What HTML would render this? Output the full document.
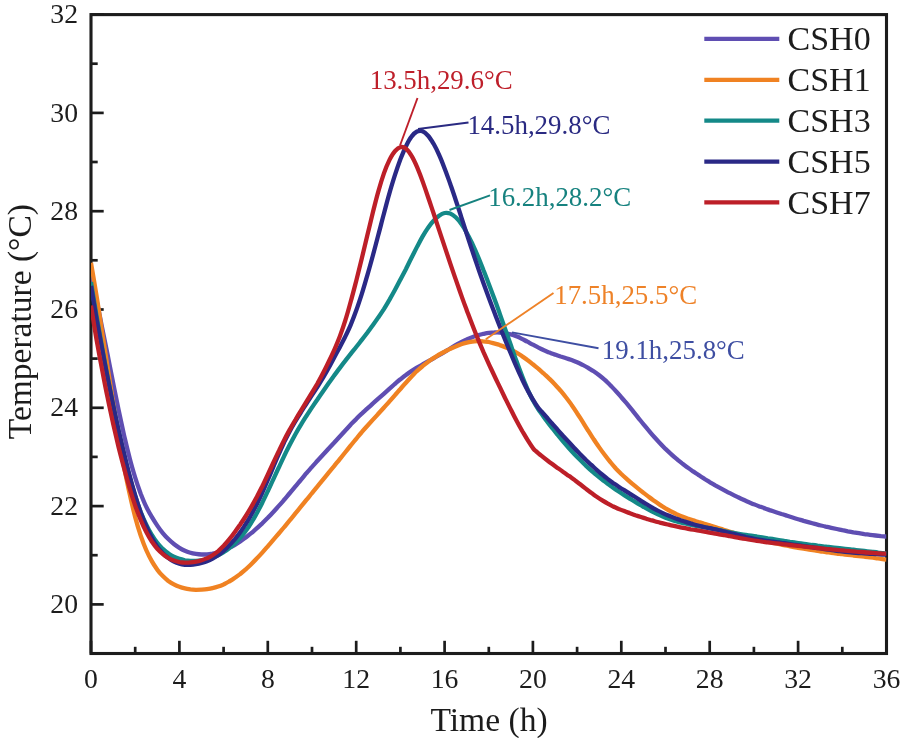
<!DOCTYPE html>
<html lang="en"><head><meta charset="utf-8"><title>Temperature vs Time</title>
<style>html,body{margin:0;padding:0;background:#fff}svg{display:block}text{font-family:"Liberation Serif",serif}</style></head><body>
<svg width="900" height="738" viewBox="0 0 900 738">
<rect width="900" height="738" fill="#fff"/>
<g stroke="#1c1c1c" fill="none" stroke-linecap="butt">
<rect x="91.0" y="14.6" width="795.5" height="638.9" stroke-width="3.1"/>
<line x1="91.0" y1="653.5" x2="91.0" y2="640.8" stroke-width="2.7"/>
<line x1="135.2" y1="653.5" x2="135.2" y2="646.8" stroke-width="2.7"/>
<line x1="179.4" y1="653.5" x2="179.4" y2="640.8" stroke-width="2.7"/>
<line x1="223.6" y1="653.5" x2="223.6" y2="646.8" stroke-width="2.7"/>
<line x1="267.8" y1="653.5" x2="267.8" y2="640.8" stroke-width="2.7"/>
<line x1="312.0" y1="653.5" x2="312.0" y2="646.8" stroke-width="2.7"/>
<line x1="356.2" y1="653.5" x2="356.2" y2="640.8" stroke-width="2.7"/>
<line x1="400.4" y1="653.5" x2="400.4" y2="646.8" stroke-width="2.7"/>
<line x1="444.6" y1="653.5" x2="444.6" y2="640.8" stroke-width="2.7"/>
<line x1="488.8" y1="653.5" x2="488.8" y2="646.8" stroke-width="2.7"/>
<line x1="532.9" y1="653.5" x2="532.9" y2="640.8" stroke-width="2.7"/>
<line x1="577.1" y1="653.5" x2="577.1" y2="646.8" stroke-width="2.7"/>
<line x1="621.3" y1="653.5" x2="621.3" y2="640.8" stroke-width="2.7"/>
<line x1="665.5" y1="653.5" x2="665.5" y2="646.8" stroke-width="2.7"/>
<line x1="709.7" y1="653.5" x2="709.7" y2="640.8" stroke-width="2.7"/>
<line x1="753.9" y1="653.5" x2="753.9" y2="646.8" stroke-width="2.7"/>
<line x1="798.1" y1="653.5" x2="798.1" y2="640.8" stroke-width="2.7"/>
<line x1="842.3" y1="653.5" x2="842.3" y2="646.8" stroke-width="2.7"/>
<line x1="886.5" y1="653.5" x2="886.5" y2="640.8" stroke-width="2.7"/>
<line x1="91.0" y1="653.5" x2="97.7" y2="653.5" stroke-width="2.7"/>
<line x1="91.0" y1="604.4" x2="103.7" y2="604.4" stroke-width="2.7"/>
<line x1="91.0" y1="555.2" x2="97.7" y2="555.2" stroke-width="2.7"/>
<line x1="91.0" y1="506.1" x2="103.7" y2="506.1" stroke-width="2.7"/>
<line x1="91.0" y1="456.9" x2="97.7" y2="456.9" stroke-width="2.7"/>
<line x1="91.0" y1="407.8" x2="103.7" y2="407.8" stroke-width="2.7"/>
<line x1="91.0" y1="358.6" x2="97.7" y2="358.6" stroke-width="2.7"/>
<line x1="91.0" y1="309.5" x2="103.7" y2="309.5" stroke-width="2.7"/>
<line x1="91.0" y1="260.3" x2="97.7" y2="260.3" stroke-width="2.7"/>
<line x1="91.0" y1="211.2" x2="103.7" y2="211.2" stroke-width="2.7"/>
<line x1="91.0" y1="162.0" x2="97.7" y2="162.0" stroke-width="2.7"/>
<line x1="91.0" y1="112.9" x2="103.7" y2="112.9" stroke-width="2.7"/>
<line x1="91.0" y1="63.7" x2="97.7" y2="63.7" stroke-width="2.7"/>
<line x1="91.0" y1="14.6" x2="103.7" y2="14.6" stroke-width="2.7"/>
</g>
<g font-size="27.7" fill="#1c1c1c">
<text x="91.0" y="688.2" text-anchor="middle">0</text>
<text x="179.4" y="688.2" text-anchor="middle">4</text>
<text x="267.8" y="688.2" text-anchor="middle">8</text>
<text x="356.2" y="688.2" text-anchor="middle">12</text>
<text x="444.6" y="688.2" text-anchor="middle">16</text>
<text x="532.9" y="688.2" text-anchor="middle">20</text>
<text x="621.3" y="688.2" text-anchor="middle">24</text>
<text x="709.7" y="688.2" text-anchor="middle">28</text>
<text x="798.1" y="688.2" text-anchor="middle">32</text>
<text x="886.5" y="688.2" text-anchor="middle">36</text>
<text x="78" y="613.0" text-anchor="end">20</text>
<text x="78" y="514.7" text-anchor="end">22</text>
<text x="78" y="416.4" text-anchor="end">24</text>
<text x="78" y="318.1" text-anchor="end">26</text>
<text x="78" y="219.8" text-anchor="end">28</text>
<text x="78" y="121.5" text-anchor="end">30</text>
<text x="78" y="23.2" text-anchor="end">32</text>
</g>
<text x="489" y="730.6" font-size="33.6" text-anchor="middle" fill="#1c1c1c">Time (h)</text>
<text transform="translate(30.6 321.6) rotate(-90)" font-size="33.5" text-anchor="middle" fill="#1c1c1c">Temperature (°C)</text>
<clipPath id="c"><rect x="91.0" y="14.6" width="795.5" height="638.9"/></clipPath>
<g clip-path="url(#c)" fill="none" stroke-width="4.3" stroke-linejoin="round" stroke-linecap="butt">
<path stroke="#5f4eb2" d="M91.0 275.1C91.9 279.3 94.7 291.6 96.5 300.3C98.4 308.9 100.2 318.0 102.0 327.1C103.9 336.2 105.7 345.5 107.6 354.8C109.4 364.1 111.3 373.5 113.1 382.7C114.9 391.9 116.8 401.2 118.6 410.0C120.5 418.7 122.3 427.3 124.1 435.4C126.0 443.4 127.8 451.2 129.7 458.2C131.5 465.3 133.4 471.7 135.2 477.6C137.0 483.5 138.9 488.8 140.7 493.7C142.6 498.5 144.4 502.9 146.2 506.7C148.1 510.6 149.9 513.7 151.8 516.9C153.6 520.0 155.5 522.9 157.3 525.6C159.1 528.3 161.0 530.9 162.8 533.1C164.7 535.4 166.5 537.3 168.3 539.1C170.2 541.0 172.0 542.5 173.9 544.0C175.7 545.4 177.5 546.7 179.4 547.8C181.2 548.9 183.1 549.9 184.9 550.7C186.8 551.5 188.6 552.2 190.4 552.7C192.3 553.3 194.1 553.6 196.0 553.9C197.8 554.2 199.6 554.4 201.5 554.5C203.3 554.5 205.2 554.5 207.0 554.3C208.9 554.2 210.7 553.9 212.5 553.6C214.4 553.2 216.2 552.8 218.1 552.2C219.9 551.7 221.7 551.0 223.6 550.3C225.4 549.6 227.3 548.8 229.1 547.9C230.9 547.0 232.8 546.0 234.6 545.0C236.5 543.9 238.3 542.8 240.2 541.5C242.0 540.3 243.8 538.9 245.7 537.5C247.5 536.1 249.4 534.7 251.2 533.2C253.0 531.6 254.9 530.0 256.7 528.4C258.6 526.7 260.4 525.0 262.3 523.3C264.1 521.5 265.9 519.7 267.8 517.8C269.6 515.9 271.5 513.9 273.3 512.0C275.1 510.0 277.0 507.9 278.8 505.9C280.7 503.8 282.5 501.7 284.4 499.5C286.2 497.4 288.0 495.2 289.9 493.0C291.7 490.9 293.6 488.6 295.4 486.4C297.2 484.2 299.1 482.0 300.9 479.8C302.8 477.6 304.6 475.3 306.4 473.2C308.3 471.1 310.1 469.0 312.0 466.9C313.8 464.8 315.7 462.8 317.5 460.8C319.3 458.8 321.2 456.8 323.0 454.8C324.9 452.8 326.7 450.8 328.5 448.8C330.4 446.8 332.2 444.8 334.1 442.8C335.9 440.8 337.8 438.8 339.6 436.8C341.4 434.8 343.3 432.7 345.1 430.7C347.0 428.7 348.8 426.7 350.6 424.7C352.5 422.8 354.3 420.9 356.2 419.1C358.0 417.2 359.8 415.4 361.7 413.7C363.5 411.9 365.4 410.3 367.2 408.6C369.1 406.9 370.9 405.3 372.7 403.6C374.6 402.0 376.4 400.4 378.3 398.7C380.1 397.1 381.9 395.5 383.8 393.8C385.6 392.2 387.5 390.5 389.3 388.9C391.2 387.2 393.0 385.6 394.8 384.0C396.7 382.4 398.5 380.8 400.4 379.3C402.2 377.8 404.0 376.3 405.9 375.0C407.7 373.6 409.6 372.3 411.4 371.1C413.3 369.9 415.1 368.8 416.9 367.7C418.8 366.6 420.6 365.6 422.5 364.5C424.3 363.5 426.1 362.5 428.0 361.4C429.8 360.4 431.7 359.4 433.5 358.3C435.3 357.3 437.2 356.2 439.0 355.2C440.9 354.1 442.7 353.0 444.6 351.9C446.4 350.8 448.2 349.6 450.1 348.5C451.9 347.4 453.8 346.3 455.6 345.2C457.4 344.2 459.3 343.1 461.1 342.2C463.0 341.2 464.8 340.3 466.7 339.5C468.5 338.6 470.3 337.9 472.2 337.2C474.0 336.5 475.9 335.8 477.7 335.3C479.5 334.7 481.4 334.3 483.2 333.9C485.1 333.5 486.9 333.1 488.8 332.9C490.6 332.7 492.4 332.5 494.3 332.5C496.1 332.4 498.0 332.4 499.8 332.5C501.6 332.6 503.5 332.9 505.3 333.2C507.2 333.5 509.0 333.9 510.8 334.4C512.7 334.9 514.5 335.6 516.4 336.3C518.2 337.0 520.1 337.9 521.9 338.8C523.7 339.7 525.6 340.8 527.4 341.7C529.3 342.7 531.1 343.8 532.9 344.7C534.8 345.7 536.6 346.7 538.5 347.6C540.3 348.5 542.2 349.4 544.0 350.3C545.8 351.1 547.7 351.8 549.5 352.6C551.4 353.3 553.2 354.0 555.0 354.6C556.9 355.3 558.7 355.9 560.6 356.5C562.4 357.0 564.2 357.6 566.1 358.2C567.9 358.8 569.8 359.4 571.6 360.0C573.5 360.7 575.3 361.5 577.1 362.3C579.0 363.1 580.8 364.0 582.7 364.9C584.5 365.8 586.3 366.8 588.2 367.9C590.0 369.0 591.9 370.1 593.7 371.3C595.6 372.6 597.4 373.9 599.2 375.3C601.1 376.8 602.9 378.3 604.8 379.9C606.6 381.6 608.4 383.4 610.3 385.2C612.1 387.1 614.0 389.0 615.8 391.0C617.7 393.0 619.5 395.1 621.3 397.2C623.2 399.3 625.0 401.5 626.9 403.7C628.7 405.9 630.5 408.1 632.4 410.4C634.2 412.7 636.1 415.0 637.9 417.3C639.7 419.6 641.6 421.9 643.4 424.2C645.3 426.5 647.1 428.7 649.0 430.9C650.8 433.1 652.6 435.2 654.5 437.3C656.3 439.3 658.2 441.3 660.0 443.2C661.8 445.2 663.7 447.1 665.5 448.9C667.4 450.7 669.2 452.4 671.1 454.1C672.9 455.8 674.7 457.4 676.6 458.9C678.4 460.5 680.3 461.9 682.1 463.4C683.9 464.8 685.8 466.1 687.6 467.5C689.5 468.8 691.3 470.1 693.1 471.4C695.0 472.6 696.8 473.9 698.7 475.1C700.5 476.4 702.4 477.6 704.2 478.7C706.0 479.9 707.9 481.0 709.7 482.1C711.6 483.2 713.4 484.2 715.2 485.3C717.1 486.3 718.9 487.3 720.8 488.3C722.6 489.3 724.5 490.3 726.3 491.3C728.1 492.3 730.0 493.2 731.8 494.1C733.7 495.1 735.5 496.0 737.3 496.9C739.2 497.8 741.0 498.7 742.9 499.5C744.7 500.4 746.6 501.2 748.4 502.0C750.2 502.8 752.1 503.5 753.9 504.3C755.8 505.0 757.6 505.7 759.4 506.4C761.3 507.1 763.1 507.8 765.0 508.4C766.8 509.1 768.6 509.7 770.5 510.4C772.3 511.0 774.2 511.6 776.0 512.2C777.9 512.8 779.7 513.4 781.5 514.0C783.4 514.5 785.2 515.1 787.1 515.7C788.9 516.3 790.7 516.9 792.6 517.5C794.4 518.1 796.3 518.7 798.1 519.2C800.0 519.8 801.8 520.3 803.6 520.9C805.5 521.4 807.3 521.9 809.2 522.4C811.0 522.9 812.8 523.4 814.7 523.9C816.5 524.4 818.4 524.8 820.2 525.3C822.0 525.7 823.9 526.1 825.7 526.6C827.6 527.0 829.4 527.4 831.3 527.8C833.1 528.2 834.9 528.6 836.8 529.0C838.6 529.4 840.5 529.8 842.3 530.2C844.1 530.5 846.0 530.9 847.8 531.3C849.7 531.6 851.5 531.9 853.4 532.3C855.2 532.6 857.0 532.9 858.9 533.2C860.7 533.5 862.6 533.8 864.4 534.1C866.2 534.3 868.1 534.6 869.9 534.8C871.8 535.1 873.6 535.3 875.5 535.5C877.3 535.7 879.1 535.9 881.0 536.1C882.8 536.2 885.6 536.5 886.5 536.5"/>
<path stroke="#f08222" d="M91.0 262.8C91.9 268.3 94.7 284.2 96.5 295.7C98.4 307.1 100.2 319.5 102.0 331.5C103.9 343.4 105.7 355.5 107.6 367.4C109.4 379.2 111.3 391.1 113.1 402.5C114.9 414.0 116.8 425.4 118.6 436.1C120.5 446.9 122.3 457.5 124.1 467.1C126.0 476.8 127.8 485.8 129.7 494.1C131.5 502.4 133.4 510.2 135.2 517.1C137.0 524.0 138.9 530.1 140.7 535.6C142.6 541.1 144.4 545.8 146.2 550.0C148.1 554.3 149.9 557.8 151.8 561.1C153.6 564.4 155.5 567.1 157.3 569.7C159.1 572.2 161.0 574.3 162.8 576.1C164.7 578.0 166.5 579.6 168.3 581.0C170.2 582.3 172.0 583.4 173.9 584.4C175.7 585.4 177.5 586.2 179.4 586.8C181.2 587.5 183.1 588.0 184.9 588.4C186.8 588.8 188.6 589.1 190.4 589.4C192.3 589.6 194.1 589.7 196.0 589.8C197.8 589.8 199.6 589.8 201.5 589.7C203.3 589.6 205.2 589.5 207.0 589.2C208.9 588.9 210.7 588.6 212.5 588.1C214.4 587.7 216.2 587.2 218.1 586.5C219.9 585.9 221.7 585.2 223.6 584.4C225.4 583.5 227.3 582.6 229.1 581.5C230.9 580.5 232.8 579.3 234.6 578.0C236.5 576.8 238.3 575.4 240.2 574.0C242.0 572.5 243.8 571.0 245.7 569.4C247.5 567.7 249.4 566.0 251.2 564.2C253.0 562.4 254.9 560.5 256.7 558.6C258.6 556.7 260.4 554.7 262.3 552.6C264.1 550.6 265.9 548.5 267.8 546.3C269.6 544.2 271.5 542.1 273.3 539.9C275.1 537.8 277.0 535.6 278.8 533.5C280.7 531.3 282.5 529.1 284.4 526.9C286.2 524.7 288.0 522.4 289.9 520.2C291.7 517.9 293.6 515.7 295.4 513.4C297.2 511.2 299.1 508.9 300.9 506.7C302.8 504.4 304.6 502.2 306.4 499.9C308.3 497.7 310.1 495.4 312.0 493.2C313.8 490.9 315.7 488.6 317.5 486.4C319.3 484.1 321.2 481.8 323.0 479.6C324.9 477.3 326.7 475.0 328.5 472.8C330.4 470.5 332.2 468.3 334.1 466.1C335.9 463.8 337.8 461.6 339.6 459.3C341.4 457.1 343.3 454.8 345.1 452.5C347.0 450.2 348.8 447.9 350.6 445.6C352.5 443.4 354.3 441.1 356.2 438.8C358.0 436.6 359.8 434.3 361.7 432.2C363.5 430.1 365.4 428.0 367.2 426.0C369.1 423.9 370.9 421.9 372.7 419.9C374.6 417.9 376.4 415.9 378.3 413.8C380.1 411.8 381.9 409.8 383.8 407.7C385.6 405.7 387.5 403.7 389.3 401.6C391.2 399.5 393.0 397.5 394.8 395.4C396.7 393.3 398.5 391.1 400.4 389.0C402.2 386.9 404.0 384.8 405.9 382.8C407.7 380.7 409.6 378.7 411.4 376.7C413.3 374.8 415.1 372.9 416.9 371.1C418.8 369.4 420.6 367.7 422.5 366.2C424.3 364.6 426.1 363.2 428.0 361.9C429.8 360.5 431.7 359.3 433.5 358.1C435.3 356.9 437.2 355.8 439.0 354.7C440.9 353.6 442.7 352.6 444.6 351.7C446.4 350.7 448.2 349.8 450.1 348.9C451.9 348.1 453.8 347.2 455.6 346.5C457.4 345.7 459.3 345.0 461.1 344.3C463.0 343.7 464.8 343.2 466.7 342.7C468.5 342.2 470.3 341.9 472.2 341.6C474.0 341.3 475.9 341.2 477.7 341.1C479.5 341.0 481.4 341.1 483.2 341.3C485.1 341.4 486.9 341.7 488.8 342.0C490.6 342.4 492.4 342.9 494.3 343.4C496.1 343.9 498.0 344.4 499.8 345.1C501.6 345.7 503.5 346.4 505.3 347.2C507.2 347.9 509.0 348.7 510.8 349.6C512.7 350.5 514.5 351.5 516.4 352.6C518.2 353.6 520.1 354.8 521.9 356.1C523.7 357.3 525.6 358.6 527.4 360.0C529.3 361.4 531.1 362.8 532.9 364.3C534.8 365.8 536.6 367.4 538.5 368.9C540.3 370.5 542.2 372.1 544.0 373.7C545.8 375.4 547.7 377.1 549.5 378.9C551.4 380.7 553.2 382.6 555.0 384.5C556.9 386.5 558.7 388.6 560.6 390.7C562.4 392.9 564.2 395.1 566.1 397.5C567.9 399.8 569.8 402.3 571.6 404.9C573.5 407.5 575.3 410.3 577.1 413.2C579.0 416.0 580.8 419.0 582.7 421.9C584.5 424.8 586.3 427.8 588.2 430.7C590.0 433.6 591.9 436.5 593.7 439.3C595.6 442.1 597.4 444.8 599.2 447.4C601.1 450.1 602.9 452.6 604.8 455.0C606.6 457.4 608.4 459.8 610.3 462.0C612.1 464.3 614.0 466.4 615.8 468.4C617.7 470.4 619.5 472.2 621.3 474.0C623.2 475.8 625.0 477.4 626.9 479.1C628.7 480.7 630.5 482.3 632.4 483.9C634.2 485.4 636.1 487.0 637.9 488.4C639.7 489.9 641.6 491.4 643.4 492.8C645.3 494.2 647.1 495.6 649.0 497.0C650.8 498.4 652.6 499.7 654.5 501.1C656.3 502.4 658.2 503.7 660.0 504.9C661.8 506.1 663.7 507.3 665.5 508.4C667.4 509.5 669.2 510.5 671.1 511.5C672.9 512.4 674.7 513.3 676.6 514.2C678.4 515.0 680.3 515.8 682.1 516.5C683.9 517.3 685.8 517.9 687.6 518.6C689.5 519.2 691.3 519.8 693.1 520.4C695.0 521.0 696.8 521.5 698.7 522.1C700.5 522.6 702.4 523.2 704.2 523.7C706.0 524.3 707.9 524.8 709.7 525.4C711.6 526.0 713.4 526.6 715.2 527.1C717.1 527.7 718.9 528.3 720.8 528.9C722.6 529.5 724.5 530.0 726.3 530.6C728.1 531.2 730.0 531.8 731.8 532.4C733.7 533.0 735.5 533.5 737.3 534.1C739.2 534.6 741.0 535.2 742.9 535.7C744.7 536.2 746.6 536.7 748.4 537.2C750.2 537.6 752.1 538.1 753.9 538.5C755.8 539.0 757.6 539.4 759.4 539.8C761.3 540.2 763.1 540.6 765.0 541.0C766.8 541.5 768.6 541.9 770.5 542.3C772.3 542.7 774.2 543.1 776.0 543.5C777.9 543.8 779.7 544.2 781.5 544.6C783.4 545.0 785.2 545.4 787.1 545.7C788.9 546.1 790.7 546.4 792.6 546.8C794.4 547.1 796.3 547.5 798.1 547.8C800.0 548.1 801.8 548.4 803.6 548.7C805.5 549.1 807.3 549.4 809.2 549.6C811.0 549.9 812.8 550.2 814.7 550.5C816.5 550.8 818.4 551.0 820.2 551.3C822.0 551.6 823.9 551.8 825.7 552.1C827.6 552.3 829.4 552.6 831.3 552.8C833.1 553.1 834.9 553.3 836.8 553.5C838.6 553.7 840.5 554.0 842.3 554.2C844.1 554.4 846.0 554.6 847.8 554.8C849.7 555.0 851.5 555.2 853.4 555.5C855.2 555.7 857.0 555.9 858.9 556.1C860.7 556.3 862.6 556.5 864.4 556.7C866.2 556.9 868.1 557.1 869.9 557.4C871.8 557.6 873.6 557.8 875.5 558.1C877.3 558.3 879.1 558.6 881.0 558.8C882.8 559.1 885.6 559.5 886.5 559.6"/>
<path stroke="#148988" d="M91.0 282.0C91.9 287.6 94.7 305.1 96.5 315.9C98.4 326.8 100.2 336.9 102.1 347.1C103.9 357.3 105.7 367.3 107.6 377.0C109.4 386.6 111.3 396.1 113.1 405.2C114.9 414.3 116.8 423.2 118.6 431.5C120.5 439.9 122.3 447.8 124.2 455.4C126.0 463.0 127.8 470.2 129.7 477.0C131.5 483.8 133.4 490.2 135.2 496.1C137.0 501.9 138.9 507.2 140.7 512.0C142.6 516.7 144.4 520.8 146.3 524.6C148.1 528.5 149.9 531.8 151.8 534.8C153.6 537.8 155.5 540.5 157.3 542.8C159.1 545.2 161.0 547.1 162.8 548.9C164.7 550.7 166.5 552.2 168.4 553.4C170.2 554.7 172.0 555.8 173.9 556.7C175.7 557.6 177.6 558.3 179.4 558.9C181.3 559.5 183.1 559.9 184.9 560.3C186.8 560.6 188.6 560.8 190.5 560.9C192.3 561.0 194.1 561.0 196.0 560.9C197.8 560.8 199.7 560.6 201.5 560.3C203.4 560.1 205.2 559.7 207.0 559.2C208.9 558.7 210.7 558.2 212.6 557.5C214.4 556.8 216.2 556.1 218.1 555.3C219.9 554.4 221.8 553.4 223.6 552.2C225.5 551.1 227.3 549.8 229.1 548.3C231.0 546.9 232.8 545.3 234.7 543.6C236.5 541.9 238.4 540.0 240.2 537.9C242.0 535.8 243.9 533.5 245.7 531.0C247.6 528.5 249.4 525.8 251.2 522.8C253.1 519.9 254.9 516.6 256.8 513.3C258.6 509.9 260.5 506.3 262.3 502.7C264.1 499.0 266.0 495.1 267.8 491.2C269.7 487.4 271.5 483.3 273.3 479.3C275.2 475.3 277.0 471.2 278.9 467.3C280.7 463.3 282.6 459.3 284.4 455.5C286.2 451.7 288.1 448.0 289.9 444.5C291.8 440.9 293.6 437.5 295.4 434.2C297.3 430.9 299.1 427.8 301.0 424.7C302.8 421.6 304.7 418.7 306.5 415.8C308.3 413.0 310.2 410.2 312.0 407.4C313.9 404.6 315.7 401.9 317.6 399.2C319.4 396.5 321.2 393.9 323.1 391.2C324.9 388.6 326.8 385.9 328.6 383.3C330.4 380.7 332.3 378.2 334.1 375.6C336.0 373.1 337.8 370.6 339.7 368.1C341.5 365.7 343.3 363.3 345.2 360.9C347.0 358.5 348.9 356.2 350.7 353.9C352.5 351.6 354.4 349.3 356.2 347.0C358.1 344.7 359.9 342.3 361.8 339.9C363.6 337.6 365.4 335.2 367.3 332.7C369.1 330.2 371.0 327.7 372.8 325.2C374.7 322.6 376.5 320.1 378.3 317.4C380.2 314.7 382.0 312.0 383.9 309.1C385.7 306.2 387.5 303.1 389.4 299.9C391.2 296.7 393.1 293.3 394.9 290.0C396.8 286.6 398.6 283.1 400.4 279.6C402.3 276.2 404.1 272.6 406.0 269.0C407.8 265.3 409.6 261.5 411.5 257.8C413.3 254.2 415.2 250.4 417.0 246.9C418.9 243.3 420.7 239.8 422.5 236.6C424.4 233.4 426.2 230.4 428.1 227.7C429.9 225.1 431.7 222.8 433.6 220.8C435.4 218.8 437.3 217.0 439.1 215.7C441.0 214.4 442.8 213.4 444.6 213.0C446.5 212.7 448.3 212.8 450.2 213.5C452.0 214.2 453.9 215.6 455.7 217.3C457.5 219.0 459.4 221.2 461.2 223.8C463.1 226.4 464.9 229.4 466.7 232.7C468.6 236.0 470.4 239.7 472.3 243.6C474.1 247.5 476.0 251.7 477.8 256.0C479.6 260.4 481.5 265.0 483.3 269.7C485.2 274.3 487.0 279.1 488.8 283.9C490.7 288.8 492.5 293.7 494.4 298.8C496.2 303.8 498.1 308.9 499.9 314.1C501.7 319.3 503.6 324.6 505.4 329.8C507.3 335.1 509.1 340.4 511.0 345.6C512.8 350.8 514.6 356.1 516.5 361.1C518.3 366.1 520.2 371.1 522.0 375.8C523.8 380.5 525.7 385.0 527.5 389.1C529.4 393.3 531.2 397.2 533.1 400.6C534.9 404.1 537.2 407.6 538.6 409.7C540.0 411.9 540.9 412.9 541.3 413.5C542.3 414.8 545.0 418.7 546.9 421.2C548.7 423.7 550.5 426.0 552.4 428.3C554.2 430.7 556.1 433.0 557.9 435.2C559.7 437.5 561.6 439.7 563.4 441.8C565.3 444.0 567.1 446.1 569.0 448.2C570.8 450.2 572.6 452.2 574.5 454.2C576.3 456.1 578.2 458.0 580.0 459.8C581.8 461.7 583.7 463.5 585.5 465.3C587.4 467.0 589.2 468.8 591.0 470.4C592.9 472.0 594.7 473.6 596.6 475.1C598.4 476.6 600.2 478.1 602.1 479.5C603.9 480.9 605.8 482.3 607.6 483.7C609.5 485.0 611.3 486.4 613.1 487.7C615.0 489.0 616.8 490.2 618.7 491.5C620.5 492.7 622.3 493.9 624.2 495.1C626.0 496.3 627.9 497.4 629.7 498.6C631.5 499.7 633.4 500.8 635.2 501.9C637.1 503.0 638.9 504.1 640.7 505.2C642.6 506.3 644.4 507.4 646.3 508.4C648.1 509.4 650.0 510.4 651.8 511.4C653.6 512.4 655.5 513.3 657.3 514.1C659.2 515.0 661.0 515.8 662.8 516.6C664.7 517.4 666.5 518.1 668.4 518.8C670.2 519.5 672.0 520.1 673.9 520.6C675.7 521.2 677.6 521.7 679.4 522.2C681.2 522.7 683.1 523.1 684.9 523.5C686.8 524.0 688.6 524.3 690.4 524.7C692.3 525.1 694.1 525.5 696.0 525.8C697.8 526.2 699.7 526.5 701.5 526.8C703.3 527.2 705.2 527.5 707.0 527.8C708.9 528.2 710.7 528.5 712.5 528.8C714.4 529.2 716.2 529.5 718.1 529.9C719.9 530.2 721.7 530.6 723.6 531.0C725.4 531.3 727.3 531.7 729.1 532.0C730.9 532.4 732.8 532.7 734.6 533.0C736.5 533.3 738.3 533.7 740.2 534.0C742.0 534.3 743.8 534.6 745.7 534.8C747.5 535.1 749.4 535.4 751.2 535.7C753.0 536.0 754.9 536.3 756.7 536.5C758.6 536.8 760.4 537.1 762.2 537.4C764.1 537.7 765.9 538.0 767.8 538.3C769.6 538.5 771.4 538.8 773.3 539.1C775.1 539.4 777.0 539.7 778.8 540.0C780.7 540.3 782.5 540.6 784.3 540.9C786.2 541.2 788.0 541.5 789.9 541.8C791.7 542.0 793.5 542.3 795.4 542.6C797.2 542.9 799.1 543.2 800.9 543.4C802.7 543.7 804.6 544.0 806.4 544.2C808.3 544.5 810.1 544.7 811.9 545.0C813.8 545.2 815.6 545.4 817.5 545.7C819.3 545.9 821.1 546.1 823.0 546.3C824.8 546.5 826.7 546.8 828.5 547.0C830.4 547.2 832.2 547.4 834.0 547.6C835.9 547.8 837.7 548.0 839.6 548.2C841.4 548.4 843.2 548.6 845.1 548.8C846.9 549.0 848.8 549.2 850.6 549.4C852.4 549.6 854.3 549.9 856.1 550.1C858.0 550.3 859.8 550.5 861.6 550.7C863.5 550.9 865.3 551.1 867.2 551.3C869.0 551.5 870.9 551.7 872.7 551.9C874.5 552.1 876.4 552.3 878.2 552.6C880.1 552.8 882.4 553.0 883.7 553.2C885.1 553.3 886.0 553.4 886.5 553.5"/>
<path stroke="#2a2986" d="M91.0 285.9C91.9 291.4 94.7 308.2 96.5 318.8C98.4 329.3 100.2 339.1 102.1 348.9C103.9 358.7 105.7 368.4 107.6 377.7C109.4 387.0 111.3 396.1 113.1 404.9C114.9 413.7 116.8 422.2 118.6 430.4C120.5 438.6 122.3 446.4 124.2 454.0C126.0 461.6 127.8 468.9 129.7 475.8C131.5 482.7 133.4 489.3 135.2 495.4C137.0 501.5 138.9 507.3 140.7 512.4C142.6 517.5 144.4 522.1 146.3 526.3C148.1 530.5 149.9 534.3 151.8 537.7C153.6 541.0 155.5 544.0 157.3 546.6C159.1 549.2 161.0 551.3 162.8 553.2C164.7 555.1 166.5 556.7 168.4 558.1C170.2 559.5 172.0 560.7 173.9 561.6C175.7 562.5 177.6 563.2 179.4 563.7C181.3 564.3 183.1 564.6 184.9 564.8C186.8 565.0 188.6 564.9 190.5 564.8C192.3 564.7 194.1 564.5 196.0 564.2C197.8 563.9 199.7 563.5 201.5 563.0C203.4 562.5 205.2 561.9 207.0 561.2C208.9 560.5 210.7 559.7 212.6 558.7C214.4 557.7 216.2 556.6 218.1 555.3C219.9 554.0 221.8 552.5 223.6 550.9C225.5 549.3 227.3 547.4 229.1 545.5C231.0 543.6 232.8 541.5 234.7 539.3C236.5 537.1 238.4 534.7 240.2 532.2C242.0 529.7 243.9 527.0 245.7 524.0C247.6 521.1 249.4 518.0 251.2 514.7C253.1 511.4 254.9 507.9 256.8 504.2C258.6 500.5 260.5 496.5 262.3 492.5C264.1 488.4 266.0 484.2 267.8 479.9C269.7 475.7 271.5 471.3 273.3 466.9C275.2 462.6 277.0 458.1 278.9 453.9C280.7 449.7 282.6 445.6 284.4 441.7C286.2 437.9 288.1 434.3 289.9 430.9C291.8 427.4 293.6 424.3 295.4 421.2C297.3 418.0 299.1 415.1 301.0 412.2C302.8 409.2 304.7 406.4 306.5 403.5C308.3 400.7 310.2 397.9 312.0 395.1C313.9 392.3 315.7 389.5 317.6 386.6C319.4 383.7 321.2 380.8 323.1 377.7C324.9 374.6 326.8 371.5 328.6 368.1C330.4 364.8 332.3 361.2 334.1 357.8C336.0 354.3 337.8 350.9 339.7 347.4C341.5 343.9 343.3 340.5 345.2 336.7C347.0 333.0 348.9 329.1 350.7 324.8C352.5 320.4 354.4 315.6 356.2 310.5C358.1 305.4 359.9 299.8 361.8 293.9C363.6 288.1 365.4 281.8 367.3 275.4C369.1 269.1 371.0 262.4 372.8 255.7C374.7 248.9 376.5 241.9 378.3 235.0C380.2 228.0 382.0 220.7 383.9 213.8C385.7 206.8 387.5 199.8 389.4 193.3C391.2 186.9 393.1 180.8 394.9 175.1C396.8 169.4 398.6 164.2 400.4 159.3C402.3 154.5 404.1 150.0 406.0 146.2C407.8 142.4 409.6 139.0 411.5 136.6C413.3 134.2 415.2 132.4 417.0 131.5C418.9 130.7 420.7 130.6 422.5 131.3C424.4 132.0 426.2 133.7 428.1 135.8C429.9 137.8 431.7 140.7 433.6 143.8C435.4 147.0 437.3 150.7 439.1 154.8C441.0 158.9 442.8 163.6 444.6 168.4C446.5 173.2 448.3 178.4 450.2 183.7C452.0 189.0 453.9 194.5 455.7 200.0C457.5 205.5 459.4 211.1 461.2 216.8C463.1 222.4 464.9 228.2 466.7 233.9C468.6 239.6 470.4 245.3 472.3 250.8C474.1 256.4 476.0 261.8 477.8 267.1C479.6 272.5 481.5 277.7 483.3 282.8C485.2 287.9 487.0 292.9 488.8 297.8C490.7 302.8 492.5 307.6 494.4 312.4C496.2 317.3 498.1 322.0 499.9 326.7C501.7 331.4 503.6 336.0 505.4 340.5C507.3 345.1 509.1 349.6 511.0 354.0C512.8 358.4 514.6 362.7 516.5 366.9C518.3 371.1 520.2 375.1 522.0 379.0C523.8 382.9 525.7 386.6 527.5 390.1C529.4 393.5 531.2 396.8 533.1 399.9C534.9 402.9 537.2 406.4 538.6 408.3C540.0 410.2 540.9 410.8 541.3 411.3C542.3 412.4 545.0 415.5 546.9 417.5C548.7 419.6 550.5 421.8 552.4 423.8C554.2 425.9 556.1 428.0 557.9 430.1C559.7 432.2 561.6 434.2 563.4 436.3C565.3 438.3 567.1 440.3 569.0 442.3C570.8 444.3 572.6 446.3 574.5 448.2C576.3 450.2 578.2 452.1 580.0 454.0C581.8 455.8 583.7 457.7 585.5 459.5C587.4 461.2 589.2 463.0 591.0 464.7C592.9 466.4 594.7 468.1 596.6 469.8C598.4 471.4 600.2 473.0 602.1 474.5C603.9 476.0 605.8 477.5 607.6 478.9C609.5 480.3 611.3 481.6 613.1 482.9C615.0 484.2 616.8 485.5 618.7 486.7C620.5 487.9 622.3 489.0 624.2 490.1C626.0 491.3 627.9 492.4 629.7 493.6C631.5 494.7 633.4 495.9 635.2 497.0C637.1 498.2 638.9 499.4 640.7 500.6C642.6 501.7 644.4 502.9 646.3 504.0C648.1 505.2 650.0 506.3 651.8 507.3C653.6 508.4 655.5 509.4 657.3 510.4C659.2 511.3 661.0 512.2 662.8 513.1C664.7 514.0 666.5 514.8 668.4 515.6C670.2 516.4 672.0 517.1 673.9 517.8C675.7 518.5 677.6 519.1 679.4 519.7C681.2 520.4 683.1 521.0 684.9 521.6C686.8 522.2 688.6 522.8 690.4 523.4C692.3 523.9 694.1 524.5 696.0 525.0C697.8 525.5 699.7 526.0 701.5 526.4C703.3 526.9 705.2 527.3 707.0 527.7C708.9 528.1 710.7 528.4 712.5 528.8C714.4 529.2 716.2 529.6 718.1 530.0C719.9 530.4 721.7 530.9 723.6 531.3C725.4 531.8 727.3 532.2 729.1 532.7C730.9 533.2 732.8 533.7 734.6 534.1C736.5 534.6 738.3 535.1 740.2 535.6C742.0 536.1 743.8 536.5 745.7 537.0C747.5 537.4 749.4 537.8 751.2 538.2C753.0 538.6 754.9 539.0 756.7 539.3C758.6 539.6 760.4 539.9 762.2 540.2C764.1 540.5 765.9 540.7 767.8 541.0C769.6 541.2 771.4 541.5 773.3 541.7C775.1 541.9 777.0 542.2 778.8 542.4C780.7 542.7 782.5 543.0 784.3 543.2C786.2 543.5 788.0 543.8 789.9 544.1C791.7 544.4 793.5 544.6 795.4 544.9C797.2 545.2 799.1 545.5 800.9 545.7C802.7 546.0 804.6 546.2 806.4 546.5C808.3 546.7 810.1 547.0 811.9 547.2C813.8 547.5 815.6 547.8 817.5 548.0C819.3 548.3 821.1 548.6 823.0 548.8C824.8 549.1 826.7 549.4 828.5 549.6C830.4 549.9 832.2 550.2 834.0 550.4C835.9 550.7 837.7 550.9 839.6 551.2C841.4 551.4 843.2 551.6 845.1 551.8C846.9 552.0 848.8 552.2 850.6 552.4C852.4 552.6 854.3 552.7 856.1 552.8C858.0 553.0 859.8 553.1 861.6 553.2C863.5 553.4 865.3 553.5 867.2 553.6C869.0 553.7 870.9 553.8 872.7 553.9C874.5 554.0 876.4 554.1 878.2 554.2C880.1 554.4 882.4 554.5 883.7 554.6C885.1 554.7 886.0 554.7 886.5 554.7"/>
<path stroke="#bd1f28" d="M91.0 305.5C91.9 311.2 94.7 328.8 96.5 339.5C98.4 350.2 100.2 359.9 102.1 369.5C103.9 379.2 105.7 388.6 107.6 397.6C109.4 406.5 111.3 415.2 113.1 423.5C115.0 431.8 116.8 439.7 118.6 447.3C120.5 454.8 122.3 461.9 124.2 468.7C126.0 475.6 127.9 482.2 129.7 488.4C131.5 494.5 133.4 500.3 135.2 505.6C137.1 510.9 138.9 515.7 140.8 520.1C142.6 524.5 144.4 528.4 146.3 532.0C148.1 535.6 150.0 538.7 151.8 541.5C153.7 544.3 155.5 546.7 157.3 548.8C159.2 550.9 161.0 552.6 162.9 554.1C164.7 555.7 166.6 556.9 168.4 558.0C170.2 559.1 172.1 559.9 173.9 560.6C175.8 561.3 177.6 561.7 179.5 562.1C181.3 562.4 183.1 562.6 185.0 562.6C186.8 562.7 188.7 562.6 190.5 562.4C192.4 562.3 194.2 562.0 196.0 561.6C197.9 561.3 199.7 560.8 201.6 560.2C203.4 559.7 205.3 559.1 207.1 558.2C208.9 557.4 210.8 556.4 212.6 555.2C214.5 554.0 216.3 552.6 218.2 551.1C220.0 549.5 221.8 547.7 223.7 545.8C225.5 543.8 227.4 541.6 229.2 539.4C231.1 537.1 232.9 534.7 234.7 532.2C236.6 529.7 238.4 527.1 240.3 524.4C242.1 521.7 244.0 518.9 245.8 516.0C247.6 513.1 249.5 510.0 251.3 506.8C253.2 503.6 255.0 500.3 256.9 496.8C258.7 493.3 260.5 489.7 262.4 486.0C264.2 482.2 266.1 478.3 267.9 474.4C269.8 470.5 271.6 466.5 273.4 462.5C275.3 458.6 277.1 454.5 279.0 450.7C280.8 446.8 282.7 443.0 284.5 439.4C286.3 435.8 288.2 432.4 290.0 429.1C291.9 425.8 293.7 422.6 295.6 419.5C297.4 416.4 299.2 413.4 301.1 410.4C302.9 407.4 304.8 404.4 306.6 401.4C308.5 398.4 310.3 395.4 312.1 392.4C314.0 389.3 315.8 386.2 317.7 383.0C319.5 379.7 321.4 376.3 323.2 372.8C325.0 369.2 326.9 365.4 328.7 361.6C330.6 357.8 332.4 354.1 334.3 349.9C336.1 345.7 337.9 341.4 339.8 336.5C341.6 331.6 343.5 326.3 345.3 320.4C347.2 314.5 349.0 308.0 350.8 301.3C352.7 294.6 354.5 287.5 356.4 280.2C358.2 273.0 360.0 265.5 361.9 258.0C363.7 250.4 365.6 242.6 367.4 235.0C369.3 227.4 371.1 219.6 372.9 212.2C374.8 204.9 376.6 197.4 378.5 190.9C380.3 184.4 382.2 178.3 384.0 173.1C385.8 167.9 387.7 163.6 389.5 159.9C391.4 156.2 393.2 153.1 395.1 151.0C396.9 148.9 398.7 147.4 400.6 147.1C402.4 146.7 404.3 147.3 406.1 148.7C408.0 150.2 409.8 152.8 411.6 155.9C413.5 159.0 415.3 163.0 417.2 167.3C419.0 171.6 420.9 176.5 422.7 181.6C424.5 186.6 426.4 192.1 428.2 197.5C430.1 202.9 431.9 208.5 433.8 214.0C435.6 219.5 437.4 225.0 439.3 230.6C441.1 236.1 443.0 241.6 444.8 247.1C446.7 252.7 448.5 258.2 450.3 263.6C452.2 269.1 454.0 274.5 455.9 279.9C457.7 285.2 459.6 290.4 461.4 295.6C463.2 300.7 465.1 305.8 466.9 310.7C468.8 315.7 470.6 320.5 472.5 325.3C474.3 330.0 476.1 334.7 478.0 339.1C479.8 343.6 481.7 347.9 483.5 352.2C485.4 356.4 487.2 360.4 489.0 364.4C490.9 368.4 492.7 372.3 494.6 376.2C496.4 380.1 498.3 383.9 500.1 387.7C501.9 391.6 503.8 395.4 505.6 399.1C507.5 402.9 509.3 406.7 511.2 410.3C513.0 414.0 514.8 417.5 516.7 421.0C518.5 424.4 520.4 427.8 522.2 431.0C524.1 434.2 525.9 437.3 527.7 440.2C529.6 443.2 531.9 446.8 533.3 448.6C534.7 450.4 535.6 450.8 536.0 451.2C537.0 452.0 539.7 454.4 541.6 455.9C543.4 457.4 545.2 458.8 547.1 460.2C548.9 461.6 550.8 463.0 552.6 464.3C554.4 465.7 556.3 467.0 558.1 468.3C560.0 469.6 561.8 470.9 563.6 472.2C565.5 473.5 567.3 474.8 569.2 476.1C571.0 477.4 572.8 478.8 574.7 480.1C576.5 481.5 578.4 482.9 580.2 484.3C582.0 485.7 583.9 487.2 585.7 488.6C587.5 490.0 589.4 491.4 591.2 492.8C593.1 494.1 594.9 495.5 596.7 496.7C598.6 498.0 600.4 499.2 602.3 500.4C604.1 501.5 605.9 502.6 607.8 503.6C609.6 504.7 611.5 505.6 613.3 506.5C615.1 507.4 617.0 508.2 618.8 509.0C620.7 509.7 622.5 510.4 624.3 511.1C626.2 511.9 628.0 512.5 629.9 513.2C631.7 513.9 633.5 514.5 635.4 515.2C637.2 515.8 639.1 516.4 640.9 517.0C642.7 517.6 644.6 518.2 646.4 518.8C648.3 519.3 650.1 519.9 651.9 520.4C653.8 520.9 655.6 521.5 657.5 522.0C659.3 522.5 661.1 522.9 663.0 523.4C664.8 523.9 666.7 524.3 668.5 524.7C670.3 525.1 672.2 525.5 674.0 525.9C675.9 526.3 677.7 526.7 679.5 527.1C681.4 527.5 683.2 527.9 685.1 528.2C686.9 528.6 688.7 528.9 690.6 529.3C692.4 529.6 694.3 529.9 696.1 530.2C697.9 530.5 699.8 530.9 701.6 531.2C703.5 531.5 705.3 531.8 707.1 532.1C709.0 532.5 710.8 532.8 712.6 533.1C714.5 533.4 716.3 533.8 718.2 534.1C720.0 534.4 721.8 534.8 723.7 535.1C725.5 535.4 727.4 535.7 729.2 536.1C731.0 536.4 732.9 536.7 734.7 537.1C736.6 537.4 738.4 537.7 740.2 538.1C742.1 538.4 743.9 538.7 745.8 539.0C747.6 539.4 749.4 539.7 751.3 540.0C753.1 540.3 755.0 540.6 756.8 540.8C758.6 541.1 760.5 541.4 762.3 541.7C764.2 541.9 766.0 542.2 767.8 542.4C769.7 542.7 771.5 542.9 773.4 543.1C775.2 543.3 777.0 543.5 778.9 543.7C780.7 544.0 782.6 544.2 784.4 544.4C786.2 544.6 788.1 544.8 789.9 545.0C791.8 545.2 793.6 545.4 795.4 545.6C797.3 545.8 799.1 546.0 801.0 546.2C802.8 546.4 804.6 546.6 806.5 546.8C808.3 547.0 810.2 547.2 812.0 547.4C813.8 547.6 815.7 547.8 817.5 548.0C819.4 548.2 821.2 548.4 823.0 548.6C824.9 548.8 826.7 548.9 828.5 549.1C830.4 549.3 832.2 549.4 834.1 549.6C835.9 549.8 837.7 549.9 839.6 550.1C841.4 550.2 843.3 550.4 845.1 550.6C846.9 550.7 848.8 550.9 850.6 551.1C852.5 551.2 854.3 551.4 856.1 551.6C858.0 551.7 859.8 551.9 861.7 552.0C863.5 552.2 865.3 552.3 867.2 552.5C869.0 552.6 870.9 552.7 872.7 552.9C874.5 553.0 876.4 553.1 878.2 553.3C880.1 553.4 882.4 553.5 883.7 553.6C885.1 553.7 886.0 553.7 886.5 553.7"/>
</g>
<g stroke-width="1.9" fill="none">
<line x1="400" y1="145.5" x2="417.5" y2="98" stroke="#be1f2a"/>
<line x1="418" y1="129" x2="468.5" y2="122.5" stroke="#2a2a82"/>
<line x1="449.5" y1="210" x2="490" y2="195.3" stroke="#16827f"/>
<line x1="485.8" y1="339.2" x2="553.5" y2="293" stroke="#ee8228"/>
<line x1="512" y1="332.4" x2="598.5" y2="348.3" stroke="#3e4ea2"/>
</g>
<g font-size="26.9">
<text x="369.7" y="88.5" fill="#be1f2a">13.5h,29.6°C</text>
<text x="467.4" y="133.5" fill="#2a2a82">14.5h,29.8°C</text>
<text x="488.2" y="206.2" fill="#16827f">16.2h,28.2°C</text>
<text x="554.2" y="303.5" fill="#ee8228">17.5h,25.5°C</text>
<text x="601.8" y="358.5" fill="#3e4ea2">19.1h,25.8°C</text>
</g>
<g stroke-width="4.2" stroke-linecap="butt">
<line x1="704.3" y1="38.8" x2="779.3" y2="38.8" stroke="#5f4eb2"/>
<line x1="704.3" y1="79.8" x2="779.3" y2="79.8" stroke="#f08222"/>
<line x1="704.3" y1="120.7" x2="779.3" y2="120.7" stroke="#148988"/>
<line x1="704.3" y1="161.7" x2="779.3" y2="161.7" stroke="#2a2986"/>
<line x1="704.3" y1="202.3" x2="779.3" y2="202.3" stroke="#bd1f28"/>
</g>
<g font-size="34" fill="#1c1c1c">
<text x="787.5" y="50.1">CSH0</text>
<text x="787.5" y="91.1">CSH1</text>
<text x="787.5" y="132.0">CSH3</text>
<text x="787.5" y="173.0">CSH5</text>
<text x="787.5" y="213.6">CSH7</text>
</g>
</svg></body></html>
